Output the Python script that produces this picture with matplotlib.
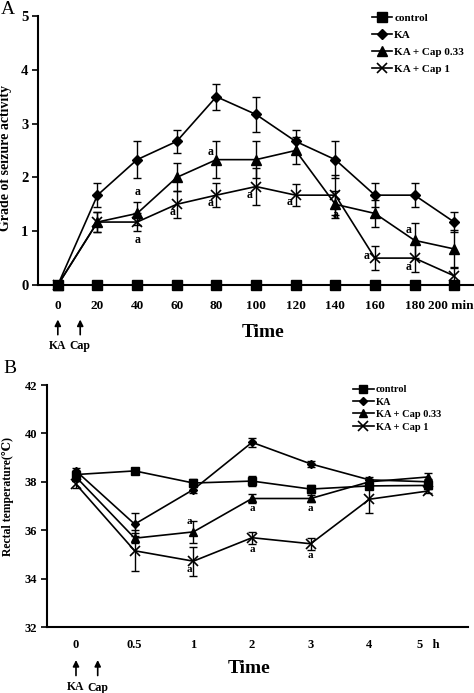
import matplotlib
matplotlib.use('Agg')
import matplotlib.pyplot as plt
import matplotlib.transforms as mtransforms

plt.rcParams['font.family'] = ['Liberation Serif', 'DejaVu Serif']
plt.rcParams['font.weight'] = 'bold'

# ---- panel A data: seizure grade ----
time_a = [0, 20, 40, 60, 80, 100, 120, 140, 160, 180, 200]
time_a_labels = ['0', '20', '40', '60', '80', '100', '120', '140', '160', '180', '200 min']
ctrl_a = [0, 0, 0, 0, 0, 0, 0, 0, 0, 0, 0]
ka_a = [0, 1.67, 2.33, 2.67, 3.5, 3.17, 2.67, 2.33, 1.67, 1.67, 1.17]
ka_a_err = [0, 0.22, 0.35, 0.21, 0.24, 0.32, 0.21, 0.34, 0.22, 0.22, 0.18]
cap033_a = [0, 1.17, 1.33, 2.0, 2.33, 2.33, 2.5, 1.5, 1.33, 0.83, 0.67]
cap033_a_err = [0, 0.18, 0.22, 0.26, 0.35, 0.35, 0.25, 0.25, 0.25, 0.33, 0.35]
cap1_a = [0, 1.17, 1.17, 1.5, 1.67, 1.83, 1.67, 1.67, 0.5, 0.5, 0.17]
cap1_a_err = [0, 0.18, 0.17, 0.25, 0.22, 0.34, 0.21, 0.37, 0.22, 0.26, 0.17]
# significance marks (x, y)
sig_a = [(40, 1.72), (40, 0.83), (58, 1.36), (77, 2.47), (77, 1.52), (97, 1.67),
         (117, 1.55), (140, 1.3), (156, 0.53), (177, 1.02), (177, 0.34)]

# ---- panel B data: rectal temperature (x is category index) ----
time_b_labels = ['0', '0.5', '1', '2', '3', '4', '5   h']
ctrl_b = [38.3, 38.45, 37.95, 38.03, 37.7, 37.83, 37.85]
ctrl_b_err = [0.1, 0.08, 0.15, 0.2, 0.15, 0.12, 0.1]
ka_b = [38.45, 36.25, 37.68, 39.63, 38.74, 38.08, 38.0]
ka_b_err = [0.1, 0.47, 0.15, 0.2, 0.12, 0.12, 0.1]
cap033_b = [38.2, 35.67, 35.93, 37.31, 37.31, 38.0, 38.2]
cap033_b_err = [0.1, 0.2, 0.44, 0.2, 0.15, 0.12, 0.15]
cap1_b = [37.9, 35.15, 34.72, 35.69, 35.44, 37.28, 37.62]
cap1_b_err = [0.15, 0.85, 0.6, 0.25, 0.25, 0.55, 0.1]
sig_b = [(1.93, 36.35), (1.93, 34.36), (3, 36.9), (3, 35.2), (4, 36.9), (4, 34.94)]

fig = plt.figure(figsize=(4.74, 6.93), dpi=100)


def draw_series(ax, x, ys, errs, styles, labels, capsize):
    for y, e, st, lab in zip(ys, errs, styles, labels):
        ax.plot(x, y, color='black', lw=1.2, label=lab, clip_on=False, zorder=3, **st)
        if e is not None:
            ax.errorbar(x, y, yerr=e, fmt='none', ecolor='black', elinewidth=1.0,
                        capsize=capsize, capthick=1.0, clip_on=False, zorder=2)


def style_axes(ax, fs):
    for s in ['top', 'right']:
        ax.spines[s].set_visible(False)
    for s in ['left', 'bottom']:
        ax.spines[s].set_linewidth(1.5)
    ax.tick_params(axis='x', length=0, labelsize=fs)
    ax.tick_params(axis='y', length=4, width=1.2, direction='out', pad=3, labelsize=fs)


# ---- Panel A ----
axA = fig.add_axes([38 / 474, 1 - 285 / 693, 436 / 474, 269 / 693])
stylesA = [dict(marker='s', ms=6.5), dict(marker='D', ms=5), dict(marker='^', ms=6.5),
           dict(marker='x', ms=7, mew=1.2)]
labels = ['control', 'KA', 'KA + Cap 0.33', 'KA + Cap 1']
draw_series(axA, time_a, [ctrl_a, ka_a, cap033_a, cap1_a],
            [None, ka_a_err, cap033_a_err, cap1_a_err], stylesA, labels, 3)
axA.set_xlim(-10, 210)
axA.set_ylim(0, 5)
axA.set_yticks([0, 1, 2, 3, 4, 5])
axA.set_xticks(time_a)
axA.set_xticklabels(time_a_labels)
style_axes(axA, 10.5)
axA.tick_params(axis='x', pad=11, labelsize=9.5)
# keep the last label ("200 min") inside the figure
last = axA.get_xticklabels()[-1]
last.set_transform(last.get_transform() +
                   mtransforms.ScaledTranslation(-3 / 100, 0, fig.dpi_scale_trans))
for sx, sy in sig_a:
    axA.text(sx, sy, 'a', ha='center', va='center', fontsize=8.5, fontweight='bold')
legA = axA.legend(loc='upper left', bbox_to_anchor=(372 / 474, 1 - 13 / 693),
                  bbox_transform=fig.transFigure, frameon=False, fontsize=8,
                  handlelength=1.8, handletextpad=0.2, labelspacing=0.65,
                  borderpad=0, borderaxespad=0)
axA.text(0.516, -0.175, 'Time', transform=axA.transAxes, ha='center', va='center',
         fontsize=14, fontweight='bold')
for ax_x, lab in [(0, 'KA'), (11.3, 'Cap')]:
    axA.annotate('', xy=(ax_x, -0.118), xytext=(ax_x, -0.195),
                 xycoords=('data', 'axes fraction'), textcoords=('data', 'axes fraction'),
                 arrowprops=dict(arrowstyle='-|>', color='black', lw=1.2, mutation_scale=9))
    axA.text(ax_x, -0.225, lab, transform=axA.get_xaxis_transform(), ha='center',
             va='center', fontsize=8.5, fontweight='bold')
fig.text(6 / 474, 1 - 158 / 693, 'Grade of seizure activity', rotation=90,
         ha='center', va='center', fontsize=10, fontweight='bold')
fig.text(1 / 474, 1 - 1 / 693, 'A', ha='left', va='top', fontsize=14, fontweight='normal')

# ---- Panel B ----
axB = fig.add_axes([47 / 474, 1 - 627 / 693, 421 / 474, 242 / 693])
stylesB = [dict(marker='s', ms=6), dict(marker='D', ms=4.5), dict(marker='^', ms=6),
           dict(marker='x', ms=6.5, mew=1.2)]
xb = list(range(len(time_b_labels)))
draw_series(axB, xb, [ctrl_b, ka_b, cap033_b, cap1_b],
            [ctrl_b_err, ka_b_err, cap033_b_err, cap1_b_err], stylesB, labels, 3)
axB.set_xlim(-0.494, 6.68)
axB.set_ylim(32, 42)
axB.set_yticks([32, 34, 36, 38, 40, 42])
axB.set_xticks(xb)
axB.set_xticklabels(time_b_labels)
style_axes(axB, 9)
axB.tick_params(axis='x', pad=9)
for sx, sy in sig_b:
    axB.text(sx, sy, 'a', ha='center', va='center', fontsize=8, fontweight='bold')
legB = axB.legend(loc='upper left', bbox_to_anchor=(353 / 474, 1 - 385 / 693),
                  bbox_transform=fig.transFigure, frameon=False, fontsize=7.5,
                  handlelength=2.0, handletextpad=0.2, labelspacing=0.3,
                  borderpad=0, borderaxespad=0)
axB.text(0.48, -0.17, 'Time', transform=axB.transAxes, ha='center', va='center',
         fontsize=14, fontweight='bold')
for ax_x, lab in [(0, 'KA'), (0.37, 'Cap')]:
    axB.annotate('', xy=(ax_x, -0.125), xytext=(ax_x, -0.212),
                 xycoords=('data', 'axes fraction'), textcoords=('data', 'axes fraction'),
                 arrowprops=dict(arrowstyle='-|>', color='black', lw=1.2, mutation_scale=9))
    axB.text(ax_x, -0.25, lab, transform=axB.get_xaxis_transform(), ha='center',
             va='center', fontsize=8.5, fontweight='bold')
fig.text(8 / 474, 1 - 497 / 693, 'Rectal temperature(\u2103)', rotation=90,
         ha='center', va='center', fontsize=8.5, fontweight='bold')
fig.text(3 / 474, 1 - 368 / 693, 'B', ha='left', va='center', fontsize=14, fontweight='normal')

fig.savefig('out.png', dpi=100)
